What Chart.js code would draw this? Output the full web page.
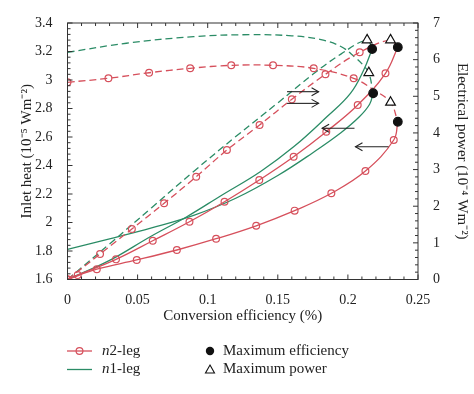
<!DOCTYPE html>
<html><head><meta charset="utf-8">
<script src="https://cdn.jsdelivr.net/npm/chart.js@4"></script>
<style>html,body{margin:0;padding:0;background:#fff}</style>
</head><body>
<canvas id="c" width="474" height="394"></canvas>
<script>
// ---------- axis ticks ----------
const xTicks = [0, 0.05, 0.1, 0.15, 0.2, 0.25];
const xTickLabels = ['0', '0.05', '0.1', '0.15', '0.2', '0.25'];
const heatTicks = [1.6, 1.8, 2.0, 2.2, 2.4, 2.6, 2.8, 3.0, 3.2, 3.4];
const heatTickLabels = ['1.6', '1.8', '2', '2.2', '2.4', '2.6', '2.8', '3', '3.2', '3.4'];
const powerTicks = [0, 1, 2, 3, 4, 5, 6, 7];
const powerTickLabels = ['0', '1', '2', '3', '4', '5', '6', '7'];

// ---------- n2-leg (red) ----------
const n2HeatRiseEff = [0, 0.0209, 0.0494, 0.078, 0.106, 0.1346, 0.162, 0.1882, 0.2125, 0.2327, 0.2356];
const n2HeatRise    = [1.6, 1.672, 1.737, 1.807, 1.886, 1.977, 2.083, 2.205, 2.361, 2.579, 2.707];
const n2HeatFallEff = [0, 0.0292, 0.0582, 0.0875, 0.1168, 0.1466, 0.1756, 0.2041, 0.2184, 0.2304, 0.2356];
const n2HeatFall    = [2.984, 3.012, 3.051, 3.082, 3.103, 3.103, 3.082, 3.012, 2.93, 2.843, 2.707];
const n2PowerRiseEff = [0, 0.0073, 0.0346, 0.0608, 0.087, 0.112, 0.1368, 0.1613, 0.1846, 0.207, 0.2268, 0.2356];
const n2PowerRise    = [0, 0.12, 0.55, 1.058, 1.577, 2.123, 2.715, 3.351, 4.034, 4.762, 5.627, 6.34];
const n2PowerFallEff = [0, 0.0232, 0.0459, 0.0689, 0.0918, 0.1137, 0.137, 0.160, 0.184, 0.2084, 0.2304, 0.2356];
const n2PowerFall    = [0, 0.695, 1.378, 2.079, 2.805, 3.534, 4.216, 4.917, 5.6, 6.2, 6.536, 6.34];

// ---------- n1-leg (green) ----------
const n1HeatRiseEff = [0, 0.03, 0.06, 0.09, 0.12, 0.15, 0.175, 0.195, 0.208, 0.2155, 0.218];
const n1HeatRise    = [1.812, 1.885, 1.962, 2.05, 2.17, 2.33, 2.49, 2.63, 2.74, 2.83, 2.907];
const n1HeatFallEff = [0, 0.042, 0.09, 0.13, 0.16, 0.18, 0.195, 0.205, 0.2113, 0.2149, 0.218];
const n1HeatFall    = [3.194, 3.258, 3.304, 3.318, 3.31, 3.285, 3.235, 3.16, 3.1, 3.051, 2.907];
const n1PowerRiseEff = [0, 0.03, 0.059, 0.0851, 0.11, 0.1375, 0.1613, 0.185, 0.2018, 0.2113, 0.2173];
const n1PowerRise    = [0, 0.52, 1.167, 1.713, 2.3, 2.942, 3.62, 4.44, 5.08, 5.717, 6.29];
const n1PowerFallEff = [0, 0.03, 0.06, 0.09, 0.12, 0.15, 0.175, 0.195, 0.2137, 0.2173];
const n1PowerFall    = [0, 0.97, 1.96, 2.95, 3.9, 4.82, 5.6, 6.15, 6.536, 6.29];

// ---------- special points ----------
const maxEffHeatEff = [0.2356, 0.218];
const maxEffHeat    = [2.707, 2.907];
const maxEffPowerEff = [0.2356, 0.2173];
const maxEffPower    = [6.34, 6.29];
const maxPowHeatEff = [0.2304, 0.2149];
const maxPowHeat    = [2.843, 3.051];
const maxPowPowerEff = [0.2304, 0.2137];
const maxPowPower    = [6.536, 6.536];

// ---------- arrows (efficiency, inlet heat) ----------
const arrowFromEff = [0.1566, 0.1566, 0.2047, 0.2290];
const arrowToEff   = [0.1791, 0.1791, 0.1816, 0.2054];
const arrowHeat    = [2.918, 2.836, 2.661, 2.532];

const RED = '#d6505c';
const GREEN = '#2b8c66';
const INK = '#222';
const FONT = '"Liberation Serif", "Times New Roman", serif';

function pts(xs, ys) { return xs.map((x, i) => ({ x: x, y: ys[i] })); }
function curve(xs, ys, axis, color, dashed, circles) {
  return {
    data: pts(xs, ys), yAxisID: axis, order: 2,
    borderColor: color, borderWidth: 1.3, borderDash: dashed ? [7, 4] : [],
    tension: 0.4, fill: false, showLine: true,
    pointRadius: xs.map((_, i) => i < circles ? 3.4 : 0),
    pointStyle: 'circle', pointBorderColor: color,
    pointBackgroundColor: 'rgba(0,0,0,0)', pointBorderWidth: 1.2
  };
}
function marks(xs, ys, axis, style) {
  const filled = style === 'circle';
  return {
    data: pts(xs, ys), yAxisID: axis, order: 0, showLine: false,
    pointStyle: style, pointRadius: filled ? 4.3 : 5.6,
    pointBackgroundColor: filled ? '#111' : '#fff',
    pointBorderColor: '#111', pointBorderWidth: 1.2
  };
}

const datasets = [
  curve(n2HeatRiseEff, n2HeatRise, 'y', RED, false, n2HeatRiseEff.length - 1),
  curve(n2HeatFallEff, n2HeatFall, 'y', RED, true, 8),
  curve(n2PowerRiseEff, n2PowerRise, 'y2', RED, false, n2PowerRiseEff.length - 1),
  curve(n2PowerFallEff, n2PowerFall, 'y2', RED, true, 10),
  curve(n1HeatRiseEff, n1HeatRise, 'y', GREEN, false, 0),
  curve(n1HeatFallEff, n1HeatFall, 'y', GREEN, true, 0),
  curve(n1PowerRiseEff, n1PowerRise, 'y2', GREEN, false, 0),
  curve(n1PowerFallEff, n1PowerFall, 'y2', GREEN, true, 0),
  marks(maxEffHeatEff, maxEffHeat, 'y', 'circle'),
  marks(maxEffPowerEff, maxEffPower, 'y2', 'circle'),
  marks(maxPowHeatEff, maxPowHeat, 'y', 'triangle'),
  marks(maxPowPowerEff, maxPowPower, 'y2', 'triangle')
];

function minorTicks(major, sub) {
  const out = [];
  for (let i = 0; i < major.length - 1; i++) {
    const step = (major[i + 1] - major[i]) / sub;
    for (let k = 1; k < sub; k++) out.push(major[i] + k * step);
  }
  return out;
}

const deco = {
  id: 'deco',
  afterDatasetsDraw(chart) {
    const { ctx, scales: { x, y } } = chart;
    ctx.save();
    ctx.strokeStyle = INK; ctx.lineWidth = 1.1; ctx.setLineDash([]);
    for (let i = 0; i < arrowHeat.length; i++) {
      const x0 = x.getPixelForValue(arrowFromEff[i]);
      const x1 = x.getPixelForValue(arrowToEff[i]);
      const py = y.getPixelForValue(arrowHeat[i]);
      const d = Math.sign(x1 - x0);
      ctx.beginPath(); ctx.moveTo(x0, py); ctx.lineTo(x1, py); ctx.stroke();
      ctx.beginPath(); ctx.moveTo(x1 - d * 7, py - 4); ctx.lineTo(x1, py); ctx.lineTo(x1 - d * 7, py + 4); ctx.stroke();
    }
    ctx.restore();
  },
  afterDraw(chart) {
    const { ctx, chartArea: a, scales: { x, y, y2 } } = chart;
    ctx.save();
    ctx.strokeStyle = '#333'; ctx.lineWidth = 1; ctx.setLineDash([]);
    ctx.strokeRect(a.left, a.top, a.right - a.left, a.bottom - a.top);
    const tick = (x0, y0, x1, y1) => { ctx.beginPath(); ctx.moveTo(x0, y0); ctx.lineTo(x1, y1); ctx.stroke(); };
    xTicks.forEach(v => { const p = x.getPixelForValue(v); tick(p, a.bottom, p, a.bottom - 5); tick(p, a.top, p, a.top + 5); });
    minorTicks(xTicks, 5).forEach(v => { const p = x.getPixelForValue(v); tick(p, a.bottom, p, a.bottom - 3); tick(p, a.top, p, a.top + 3); });
    heatTicks.forEach(v => { const p = y.getPixelForValue(v); tick(a.left, p, a.left + 5, p); });
    minorTicks(heatTicks, 5).forEach(v => { const p = y.getPixelForValue(v); tick(a.left, p, a.left + 3, p); });
    powerTicks.forEach(v => { const p = y2.getPixelForValue(v); tick(a.right, p, a.right - 5, p); });
    minorTicks(powerTicks, 5).forEach(v => { const p = y2.getPixelForValue(v); tick(a.right, p, a.right - 3, p); });

    // legend
    ctx.textBaseline = 'middle'; ctx.textAlign = 'left'; ctx.fillStyle = INK;
    const ly1 = 351, ly2 = 369.5;
    ctx.lineWidth = 1.3;
    ctx.strokeStyle = RED; tick(67, ly1, 92, ly1);
    ctx.lineWidth = 1.2;
    ctx.beginPath(); ctx.arc(79.5, ly1, 3.4, 0, Math.PI * 2); ctx.stroke();
    ctx.lineWidth = 1.3;
    ctx.strokeStyle = GREEN; tick(67, ly2, 92, ly2);
    const label = (yy, num) => {
      ctx.font = 'italic 15px ' + FONT;
      ctx.fillText('n', 102, yy);
      const w = ctx.measureText('n').width;
      ctx.font = '15px ' + FONT;
      ctx.fillText(num + '-leg', 102 + w, yy);
    };
    label(ly1, '2'); label(ly2, '1');
    ctx.fillStyle = '#111';
    ctx.beginPath(); ctx.arc(210, ly1, 4.2, 0, Math.PI * 2); ctx.fill();
    ctx.strokeStyle = '#111'; ctx.lineWidth = 1.1;
    ctx.beginPath(); ctx.moveTo(210, ly2 - 4.5); ctx.lineTo(214.5, ly2 + 3.5); ctx.lineTo(205.5, ly2 + 3.5); ctx.closePath(); ctx.stroke();
    ctx.fillStyle = INK; ctx.font = '15px ' + FONT;
    ctx.fillText('Maximum efficiency', 223, ly1);
    ctx.fillText('Maximum power', 223, ly2);
    ctx.restore();
  }
};

new Chart(document.getElementById('c'), {
  type: 'line',
  data: { datasets: datasets },
  options: {
    responsive: false, animation: false, events: [],
    layout: { padding: { top: 23, left: 0, right: 0, bottom: 0 } },
    plugins: { legend: { display: false }, tooltip: { enabled: false } },
    scales: {
      x: {
        type: 'linear', position: 'bottom', min: 0, max: 0.25,
        afterBuildTicks: s => { s.ticks = xTicks.map(v => ({ value: v })); },
        afterFit: s => { s.height = 114.5; },
        ticks: { callback: (v, i) => xTickLabels[i], font: { family: FONT, size: 14 }, color: INK, padding: 4, maxRotation: 0, autoSkip: false },
        grid: { display: false }, border: { display: false },
        title: { display: true, text: 'Conversion efficiency (%)', font: { family: FONT, size: 15 }, color: INK, padding: { top: 0, bottom: 69 } }
      },
      y: {
        type: 'linear', position: 'left', min: 1.6, max: 3.4,
        afterBuildTicks: s => { s.ticks = heatTicks.map(v => ({ value: v })); },
        afterFit: s => { s.width = 67.5; },
        ticks: { callback: (v, i) => heatTickLabels[i], font: { family: FONT, size: 14 }, color: INK, padding: 7, autoSkip: false },
        grid: { display: false }, border: { display: false },
        title: { display: true, text: 'Inlet heat (10\u207B\u2075 Wm\u207B\u00B2)', font: { family: FONT, size: 15 }, color: INK, padding: { top: 18, bottom: 0 } }
      },
      y2: {
        type: 'linear', position: 'right', min: 0, max: 7,
        afterBuildTicks: s => { s.ticks = powerTicks.map(v => ({ value: v })); },
        afterFit: s => { s.width = 56; },
        ticks: { callback: (v, i) => powerTickLabels[i], font: { family: FONT, size: 14 }, color: INK, padding: 7, autoSkip: false },
        grid: { display: false }, border: { display: false },
        title: { display: true, text: 'Electrical power (10\u207B\u2074 Wm\u207B\u00B2)', font: { family: FONT, size: 15 }, color: INK, padding: { top: 3, bottom: 0 } }
      }
    }
  },
  plugins: [deco]
});
</script>
</body></html>
